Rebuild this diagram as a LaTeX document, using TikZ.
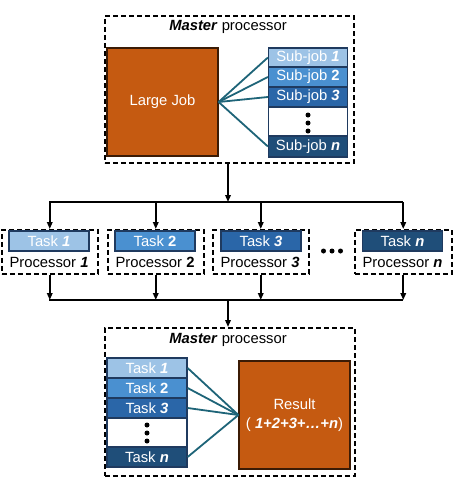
\documentclass[tikz,border=0pt]{standalone}
\usepackage{fontspec}
\setmainfont{Liberation Sans}
\usetikzlibrary{arrows.meta}
\definecolor{cA}{HTML}{9DC3E6}
\definecolor{cB}{HTML}{4A90D0}
\definecolor{cC}{HTML}{2A66A8}
\definecolor{cN}{HTML}{1F4E79}
\definecolor{edge}{HTML}{1F3A5F}
\definecolor{orng}{HTML}{C55A11}
\definecolor{teal}{HTML}{1E6478}
\tikzset{
  dashbox/.style={draw=black, line width=1.5pt, dash pattern=on 5pt off 3pt, inner sep=0pt, anchor=north west},
  row/.style={draw=edge, line width=1.2pt, inner sep=0pt, text=white, font=\fontsize{14.8}{16}\selectfont, minimum width=#1},
  row/.default=79pt,
  bigbox/.style={draw=black!70!orng, line width=1.2pt, fill=orng, text=white, inner sep=0pt, font=\fontsize{14.8}{19}\selectfont, align=center},
  lbl/.style={font=\fontsize{14.8}{16}\selectfont, inner sep=0pt},
  link/.style={draw=teal, line width=1.8pt},
  arr/.style={draw=black, line width=1.7pt, -{Triangle[length=7pt,width=5.5pt]}},
  plain/.style={draw=black, line width=1.7pt},
  dot/.style={circle, fill=black, inner sep=0pt, minimum size=5pt}
}
\begin{document}
\begin{tikzpicture}[x=1pt,y=-1pt]
\useasboundingbox (0,0) rectangle (474,498);
% ---------- top master ----------
\node[dashbox, minimum width=249pt, minimum height=147pt] (m1) at (104,15) {};
\node[lbl] (m1t) at (228,27) {\textbf{\textit{Master}} processor};
\node[bigbox, minimum width=111pt, minimum height=108pt] (large) at (162.5,102) {Large Job};
\node[row, fill=cA, minimum height=19pt] (s1) at (308,57.5) {Sub-job \textbf{\textit{1}}};
\node[row, fill=cB, minimum height=20pt] (s2) at (308,77) {Sub-job \textbf{2}};
\node[row, fill=cC, minimum height=20pt] (s3) at (308,97) {Sub-job \textbf{\textit{3}}};
\node[row, fill=white, minimum height=29pt] (s4) at (308,121.5) {};
\node[row, fill=cN, minimum height=21pt] (sn) at (308,146.5) {Sub-job \textbf{\textit{n}}};
\node[dot] (d1) at (308,115) {};
\node[dot] (d2) at (308,123) {};
\node[dot] (d3) at (308,131) {};
\foreach \s in {s1,s2,s3,sn} \draw[link] (large.east) -- (\s.west);
% ---------- distribution ----------
\coordinate (j1) at (228,202);
\coordinate (j1L) at (49,202);
\coordinate (j1R) at (403,202);
\draw[arr] (m1.south -| j1) -- (j1);
\draw[plain] (j1L) -- (j1R);
% processors
\node[dashbox, minimum width=96pt, minimum height=44pt] (p1) at (1,229) {};
\node[dashbox, minimum width=96pt, minimum height=44pt] (p2) at (107,229) {};
\node[dashbox, minimum width=96pt, minimum height=44pt] (p3) at (212,229) {};
\node[dashbox, minimum width=97pt, minimum height=44pt] (pn) at (354,229) {};
\node[row=80pt, fill=cA, minimum height=20pt] (t1) at (49,241) {Task \textbf{\textit{1}}};
\node[row=80pt, fill=cB, minimum height=20pt] (t2) at (155,241) {Task \textbf{2}};
\node[row=80pt, fill=cC, minimum height=20pt] (t3) at (261,241) {Task \textbf{\textit{3}}};
\node[row=80pt, fill=cN, minimum height=20pt] (tn) at (402.5,241) {Task \textbf{\textit{n}}};
\node[lbl] (l1) at (49,262) {Processor \textbf{\textit{1}}};
\node[lbl] (l2) at (155,262) {Processor \textbf{2}};
\node[lbl] (l3) at (260,262) {Processor \textbf{\textit{3}}};
\node[lbl] (ln) at (402.5,262) {Processor \textbf{\textit{n}}};
\node[dot] (e1) at (323.5,251) {};
\node[dot] (e2) at (332,251) {};
\node[dot] (e3) at (340.5,251) {};
\foreach \p in {p1,p2,p3,pn} \draw[arr] (j1L -| \p.north) -- (\p.north);
% ---------- gathering ----------
\coordinate (j2) at (228,300);
\coordinate (j2L) at (49,300);
\coordinate (j2R) at (403,300);
\foreach \p in {p1,p2,p3,pn} \draw[arr] (\p.south) -- (j2L -| \p.south);
\draw[plain] (j2L) -- (j2R);
% ---------- bottom master ----------
\node[dashbox, minimum width=250pt, minimum height=148pt] (m2) at (104,327) {};
\draw[arr] (j2) -- (m2.north -| j2);
\node[lbl] (m2t) at (228,340) {\textbf{\textit{Master}} processor};
\node[row=80pt, fill=cA, minimum height=20pt] (b1) at (147,368) {Task \textbf{\textit{1}}};
\node[row=80pt, fill=cB, minimum height=20pt] (b2) at (147,388) {Task \textbf{2}};
\node[row=80pt, fill=cC, minimum height=20pt] (b3) at (147,408) {Task \textbf{\textit{3}}};
\node[row=80pt, fill=white, minimum height=29pt] (b4) at (147,432.5) {};
\node[row=80pt, fill=cN, minimum height=20pt] (bn) at (147,457) {Task \textbf{\textit{n}}};
\node[dot] (f1) at (147,425) {};
\node[dot] (f2) at (147,433) {};
\node[dot] (f3) at (147,441) {};
\node[bigbox, minimum width=111pt, minimum height=108pt] (res) at (294.5,415) {Result\\( \textbf{\textit{1+2+3+…+n}})};
\foreach \s in {b1,b2,b3,bn} \draw[link] (\s.east) -- (res.west);
\end{tikzpicture}
\end{document}
